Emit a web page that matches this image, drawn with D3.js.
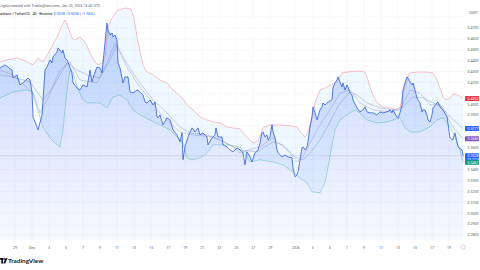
<!DOCTYPE html>
<html>
<head>
<meta charset="utf-8">
<script src="https://cdn.jsdelivr.net/npm/d3@7"></script>
<style>
  html, body { margin: 0; padding: 0; background: #fff; }
  svg { display: block; font-family: Roboto, "Open Sans", sans-serif; }
</style>
</head>
<body>
<svg id="chart" width="480" height="270"></svg>
<script>
// all series: [days since 2025-12-01 00:00 UTC, price in USDT]
const priceLine = [
  [-3.76,0.4333],[-3.17,0.4361],[-2.35,0.4315],[-2.23,0.4241],[-1.76,0.4269],[-1.41,0.4177],[-1.06,0.4196],
  [-0.47,0.4241],[-0.24,0.4223],[0,0.4113],[0.12,0.3884],[0.59,0.3792],[0.71,0.3765],[1.18,0.3902],
  [1.53,0.4315],[1.76,0.4342],[2.12,0.4407],[2.35,0.4379],[2.47,0.4434],[2.94,0.448],[3.06,0.4517],
  [3.53,0.4471],[3.64,0.4498],[3.88,0.4425],[4.11,0.4407],[4.23,0.4388],[4.70,0.4287],[4.82,0.4196],
  [5.29,0.415],[5.64,0.4131],[5.99,0.4177],[6.46,0.4159],[6.58,0.4205],[6.82,0.4315],[7.05,0.4205],
  [7.40,0.4296],[7.64,0.4342],[7.99,0.4333],[8.23,0.4287],[8.34,0.4379],[8.81,0.4746],[8.93,0.4682],
  [9.17,0.4636],[9.40,0.4654],[9.52,0.4617],[9.75,0.4636],[9.99,0.459],[10.11,0.4379],[10.34,0.4333],
  [10.69,0.4196],[10.93,0.4251],[11.28,0.4251],[11.52,0.4113],[11.87,0.4104],[12.34,0.4131],[12.69,0.4113],
  [13.04,0.4086],[13.28,0.4021],[13.51,0.4012],[13.87,0.404],[14.22,0.3994],[14.45,0.4021],[14.69,0.3884],
  [14.81,0.3875],[15.04,0.3902],[15.39,0.3811],[15.86,0.3875],[16.22,0.3856],[16.57,0.3765],[17.04,0.3719],
  [17.39,0.3655],[17.63,0.3737],[17.74,0.349],[17.98,0.3609],[18.33,0.37],[18.80,0.3783],[19.15,0.3746],
  [19.51,0.3783],[19.74,0.3719],[20.09,0.3737],[20.56,0.37],[20.68,0.3627],[21.15,0.3691],[21.50,0.3719],
  [21.62,0.3783],[21.86,0.37],[22.33,0.37],[22.44,0.3627],[22.91,0.3609],[23.27,0.3581],[23.62,0.3563],
  [24.09,0.36],[24.44,0.3581],[24.79,0.3554],[25.03,0.3444],[25.26,0.3563],[25.62,0.3517],[25.85,0.3471],
  [26.20,0.3554],[26.56,0.3581],[26.79,0.3645],[27.03,0.3737],[27.14,0.3746],[27.38,0.37],[27.61,0.3719],
  [27.73,0.3673],[27.97,0.37],[28.20,0.3811],[28.32,0.3746],[28.55,0.3691],[28.79,0.3581],[28.91,0.3554],
  [29.38,0.3517],[29.73,0.3535],[30.08,0.3517],[30.55,0.3508],[30.67,0.3416],[30.90,0.3334],[31.14,0.3352],
  [31.26,0.338],[31.73,0.36],[31.84,0.3609],[32.08,0.3581],[32.31,0.3609],[32.43,0.3655],[32.67,0.3792],
  [32.90,0.3884],[33.02,0.3976],[33.25,0.3921],[33.49,0.3856],[33.84,0.3948],[34.08,0.3976],[34.19,0.4012],
  [34.43,0.3994],[34.66,0.4012],[35.25,0.404],[35.37,0.415],[35.60,0.4196],[35.84,0.4223],[35.96,0.4251],
  [36.19,0.4205],[36.43,0.4159],[36.54,0.4196],[36.78,0.4131],[37.01,0.4177],[37.13,0.4159],[37.37,0.4104],
  [37.60,0.4086],[37.72,0.404],[38.19,0.3966],[38.54,0.393],[38.89,0.3948],[39.13,0.3976],[39.36,0.393],
  [39.72,0.3921],[40.07,0.3921],[40.54,0.3902],[40.89,0.393],[41.24,0.3921],[41.71,0.393],[42.07,0.3948],
  [42.30,0.3921],[42.42,0.3948],[42.89,0.3884],[43.01,0.3875],[43.24,0.3921],[43.48,0.3994],[43.59,0.4131],
  [43.83,0.4196],[44.06,0.4251],[44.18,0.4241],[44.42,0.4205],[44.65,0.4177],[44.77,0.4196],[45.00,0.4131],
  [45.24,0.4058],[45.36,0.404],[45.59,0.4012],[45.83,0.393],[45.94,0.3948],[46.18,0.3948],[46.41,0.3902],
  [46.53,0.3856],[46.77,0.3838],[47.00,0.3902],[47.12,0.3966],[47.59,0.4012],[47.71,0.4021],[47.94,0.3976],
  [48.30,0.3948],[48.77,0.3884],[49.12,0.3691],[49.47,0.3673],[49.70,0.3737],[50.06,0.3609],[50.53,0.3581],
  [50.67,0.3528]
];
const upperBand = [
  [-3.76,0.4388],[-2.94,0.4407],[-1.76,0.4425],[-1.06,0.4407],[0.12,0.4361],[0.71,0.4425],[1.29,0.4388],
  [2.12,0.4498],[2.94,0.4617],[3.53,0.4728],[3.88,0.4773],[4.23,0.4709],[4.70,0.4608],[5.05,0.459],
  [5.64,0.4617],[6.23,0.4572],[6.82,0.4471],[7.40,0.4388],[7.76,0.4361],[8.23,0.4379],[8.58,0.4434],
  [8.93,0.4709],[9.40,0.4792],[10.11,0.4865],[10.93,0.4883],[11.63,0.4874],[11.99,0.4792],[12.34,0.4617],
  [13.04,0.4361],[13.51,0.4296],[14.22,0.4269],[15.04,0.4223],[15.86,0.4196],[16.57,0.4131],[17.63,0.4058],
  [18.21,0.3994],[18.92,0.3948],[19.74,0.3884],[20.56,0.3856],[21.27,0.3838],[22.09,0.3829],[22.91,0.3792],
  [23.62,0.3783],[24.44,0.3774],[25.26,0.37],[25.97,0.3645],[26.56,0.3664],[27.14,0.3783],[27.97,0.3811],
  [29.14,0.3811],[30.32,0.3802],[31.14,0.3792],[31.49,0.3746],[32.08,0.37],[32.43,0.3737],[32.90,0.3884],
  [33.25,0.4012],[33.84,0.4131],[34.66,0.4159],[35.84,0.4205],[36.43,0.4287],[37.01,0.4296],[38.54,0.4306],
  [39.13,0.4296],[39.48,0.4223],[39.95,0.4104],[40.54,0.4012],[41.24,0.3976],[42.07,0.3966],[42.89,0.3948],
  [43.24,0.3966],[43.59,0.4104],[44.06,0.4223],[44.42,0.4287],[45.24,0.4296],[46.41,0.4296],[47.12,0.4287],
  [47.59,0.4223],[48.30,0.4067],[48.77,0.404],[49.12,0.4058],[49.47,0.4095],[50.06,0.4086],[50.67,0.4052]
];
const lowerBand = [
  [-3.76,0.4058],[-2.94,0.4086],[-2.23,0.4113],[-0.59,0.4131],[0,0.4113],[0.59,0.3966],[1.29,0.3792],
  [2.12,0.3691],[2.70,0.3645],[3.29,0.3609],[3.64,0.3765],[4.11,0.4131],[4.47,0.4315],[4.82,0.4296],
  [5.29,0.4159],[5.88,0.4058],[6.46,0.4012],[7.99,0.4012],[8.81,0.3966],[9.52,0.4067],[10.34,0.4086],
  [11.16,0.404],[11.87,0.3948],[12.69,0.3902],[13.87,0.3856],[15.04,0.3811],[16.22,0.3765],[17.74,0.3645],
  [18.21,0.3508],[18.80,0.349],[19.74,0.3508],[20.56,0.3554],[21.27,0.3627],[22.91,0.3627],[24.44,0.3609],
  [25.62,0.3471],[26.79,0.349],[28.32,0.3471],[29.49,0.3444],[30.67,0.338],[31.26,0.3334],[32.31,0.3279],
  [32.90,0.3196],[33.84,0.3187],[34.43,0.3279],[35.02,0.3517],[35.60,0.3765],[36.19,0.3856],[37.37,0.3921],
  [37.95,0.3948],[38.54,0.3921],[39.36,0.3856],[40.54,0.3829],[41.71,0.3838],[43.24,0.3875],[43.83,0.3783],
  [44.42,0.3746],[45.59,0.3746],[46.77,0.3792],[47.59,0.3856],[48.30,0.3875],[49.12,0.3792],[49.70,0.37],
  [50.29,0.3581],[50.67,0.3467]
];
const basisLine = [
  [-3.76,0.4269],[-2.23,0.4251],[-0.24,0.4205],[1.29,0.404],[2.47,0.4159],[4.11,0.4379],[5.29,0.4315],
  [6.46,0.4269],[7.99,0.4241],[9.17,0.4407],[9.99,0.4544],[10.69,0.4434],[11.87,0.4287],[13.04,0.4159],
  [14.22,0.404],[15.86,0.3921],[17.39,0.3792],[18.57,0.3737],[20.56,0.3719],[22.09,0.3673],[24.44,0.3581],
  [26.44,0.3563],[28.32,0.3655],[29.49,0.3627],[30.90,0.3517],[31.84,0.349],[32.67,0.3554],[33.84,0.3673],
  [35.02,0.3838],[36.19,0.4012],[37.37,0.4113],[38.19,0.4086],[39.36,0.4012],[40.89,0.3966],[42.42,0.3948],
  [43.59,0.3976],[44.77,0.4067],[45.94,0.4058],[47.12,0.4012],[47.94,0.3994],[49.12,0.3884],[50.67,0.3777]
];
const fastLine = [
  [-3.76,0.4315],[-2.23,0.4269],[0.12,0.4104],[0.94,0.3921],[1.76,0.404],[3.29,0.4315],[4.47,0.4388],
  [5.64,0.4223],[7.64,0.4196],[8.81,0.4379],[9.75,0.4562],[11.16,0.4342],[12.34,0.4196],[13.87,0.404],
  [15.39,0.3884],[17.39,0.3746],[18.92,0.3719],[21.27,0.37],[23.62,0.3609],[24.44,0.3554],[26.79,0.3609],
  [28.32,0.3691],[29.96,0.3581],[31.14,0.3471],[31.84,0.3517],[32.67,0.3645],[33.84,0.3811],[35.02,0.3948],
  [36.19,0.4104],[37.37,0.4131],[38.54,0.4012],[40.07,0.3948],[42.07,0.393],[43.24,0.3948],[44.42,0.4131],
  [45.59,0.4104],[46.77,0.3994],[47.94,0.3994],[49.47,0.3792],[50.67,0.3683]
];
// x-axis ticks: [days since Dec 1, label]
const dateTicks = [
  [-4,"27"],[-2,"29"],[0,"Dec"],[2,"3"],[4,"5"],[6,"7"],[8,"9"],[10,"11"],[12,"13"],[14,"15"],[16,"17"],
  [18,"19"],[20,"21"],[22,"23"],[24,"25"],[26,"27"],[28,"29"],[31,"2026"],[33,"3"],[35,"5"],[37,"7"],
  [39,"9"],[41,"11"],[43,"13"],[45,"15"],[47,"17"],[49,"19"]
];
const priceTicks = [0.47,0.46,0.45,0.44,0.43,0.42,0.40,0.39,0.36,0.34,0.33,0.32,0.31,0.30,0.29,0.28];
const gridTicks = [0.48,0.47,0.46,0.45,0.44,0.43,0.42,0.41,0.40,0.39,0.38,0.37,0.36,0.35,0.34,0.33,0.32,0.31,0.30,0.29,0.28];
const lastLabels = [
  {value: 0.4052, color: "#f23645"},
  {value: 0.3777, color: "#2962ff"},
  {value: 0.3683, color: "#7e57c2"},
  {value: 0.3528, color: "#2962ff", sub: "03:17:36"},
  {value: 0.3467, color: "#089981"}
];
const lastPrice = 0.3528;

const W = 480, H = 270;
const paneRight = 464, paneBottom = 240;
const day0 = Date.UTC(2025, 11, 1);
const toDate = d => new Date(day0 + d * 864e5);

const svg = d3.select('#chart');

const x = d3.scaleUtc()
  .domain([toDate(0), toDate(49)])
  .range([32, 449]);
const y = d3.scaleLinear()
  .domain([0.28, 0.47])
  .range([235, 28]);

svg.append('rect').attr('width', W).attr('height', H).attr('fill', '#ffffff');

const defs = svg.append('defs');
defs.append('clipPath').attr('id', 'pane')
  .append('rect').attr('x', 0).attr('y', 0).attr('width', paneRight).attr('height', paneBottom);

const topY = y(d3.max(priceLine, d => d[1]));
const grad = defs.append('linearGradient').attr('id', 'areaGrad')
  .attr('gradientUnits', 'userSpaceOnUse')
  .attr('x1', 0).attr('x2', 0).attr('y1', topY).attr('y2', paneBottom);
grad.append('stop').attr('offset', 0).attr('stop-color', '#2962ff').attr('stop-opacity', 0.26);
grad.append('stop').attr('offset', 1).attr('stop-color', '#2962ff').attr('stop-opacity', 0.04);

// grid
const grid = svg.append('g').attr('clip-path', 'url(#pane)');
grid.selectAll('line.h')
  .data(gridTicks)
  .enter()
  .append('line')
  .attr('x1', 0).attr('x2', paneRight)
  .attr('y1', d => y(d)).attr('y2', d => y(d))
  .attr('stroke', '#f2f3f7').attr('stroke-width', 0.5);
grid.selectAll('line.v')
  .data(dateTicks)
  .enter()
  .append('line')
  .attr('x1', d => x(toDate(d[0]))).attr('x2', d => x(toDate(d[0])))
  .attr('y1', 0).attr('y2', paneBottom)
  .attr('stroke', '#f2f3f7').attr('stroke-width', 0.5);

const plot = svg.append('g').attr('clip-path', 'url(#pane)');

const line = d3.line()
  .x(d => x(toDate(d[0])))
  .y(d => y(d[1]));

// band background
const bandShape = upperBand.concat(lowerBand.slice().reverse());
plot.append('path')
  .attr('d', line(bandShape) + 'Z')
  .attr('fill', 'rgba(33,150,243,0.07)');

// area under price
const area = d3.area()
  .x(d => x(toDate(d[0])))
  .y0(paneBottom)
  .y1(d => y(d[1]));
plot.append('path')
  .attr('d', area(priceLine))
  .attr('fill', 'url(#areaGrad)');

// last price line
plot.append('line')
  .attr('x1', 0).attr('x2', paneRight)
  .attr('y1', y(lastPrice)).attr('y2', y(lastPrice))
  .attr('stroke', '#b8bfd6').attr('stroke-width', 0.5);

plot.append('path').attr('d', line(upperBand))
  .attr('fill', 'none').attr('stroke', '#f23645').attr('stroke-opacity', 0.6).attr('stroke-width', 0.5);
plot.append('path').attr('d', line(lowerBand))
  .attr('fill', 'none').attr('stroke', '#089981').attr('stroke-opacity', 0.6).attr('stroke-width', 0.5);
plot.append('path').attr('d', line(basisLine))
  .attr('fill', 'none').attr('stroke', '#6b7bb5').attr('stroke-opacity', 0.7).attr('stroke-width', 0.5);
plot.append('path').attr('d', line(fastLine))
  .attr('fill', 'none').attr('stroke', '#8a78b5').attr('stroke-opacity', 0.7).attr('stroke-width', 0.5);

plot.append('path').attr('d', line(priceLine))
  .attr('fill', 'none').attr('stroke', '#2f5bd6').attr('stroke-width', 0.8)
  .attr('stroke-linejoin', 'round');

// right price scale
const axisG = svg.append('g').attr('font-size', 3.6).attr('fill', '#5d606b');
axisG.append('text').attr('x', 469).attr('y', 14.3).text('USDT');
axisG.selectAll('text.tick')
  .data(priceTicks)
  .enter()
  .append('text')
  .attr('x', 467.5)
  .attr('y', d => y(d) + 1.3)
  .text(d => d.toFixed(4));

const boxes = svg.append('g');
lastLabels.forEach(l => {
  const cy = y(l.value);
  const h = l.sub ? 9 : 5;
  boxes.append('rect')
    .attr('x', 465).attr('y', cy - 2.5)
    .attr('width', 14).attr('height', h)
    .attr('rx', 0.6)
    .attr('fill', l.color);
  boxes.append('text')
    .attr('x', 467.5).attr('y', cy + 1.3)
    .attr('font-size', 3.6).attr('fill', '#fff')
    .text(l.value.toFixed(4));
  if (l.sub) {
    boxes.append('text')
      .attr('x', 467.5).attr('y', cy + 5.3)
      .attr('font-size', 3.3).attr('fill', '#fff')
      .text(l.sub);
  }
});

// time scale
svg.append('g').attr('font-size', 3.6).attr('fill', '#5d606b')
  .selectAll('text')
  .data(dateTicks)
  .enter()
  .append('text')
  .attr('x', d => x(toDate(d[0])))
  .attr('y', 248.5)
  .attr('text-anchor', 'middle')
  .text(d => d[1]);

// header
const header = svg.append('g').attr('font-size', 3.7).attr('fill', '#5d606b');
header.append('text').attr('x', -8.5).attr('y', 6.5)
  .text('BeInCrypto created with TradingView.com, Jan 20, 2026 16:42 UTC');
const t2 = header.append('text').attr('x', -2.5).attr('y', 14.5);
t2.append('tspan').attr('fill', '#131722').text('Cardano / TetherUS · 4h · Binance  ');
t2.append('tspan').attr('fill', '#2962ff').text('0.3528  ');
t2.append('tspan').attr('fill', '#2962ff').text('−0.0056 (−1.56%)');

// auto-scale icon
svg.append('circle').attr('cx', 463).attr('cy', 247).attr('r', 2.2)
  .attr('fill', 'none').attr('stroke', '#9598a1').attr('stroke-width', 0.4);

// TradingView logo
const logo = svg.append('g').attr('fill', '#131722');
logo.append('path').attr('d', 'M-1 258 h4 v5.5 h-1.8 v-3.7 h-2.2 z');
logo.append('circle').attr('cx', 4).attr('cy', 259).attr('r', 0.9);
logo.append('path').attr('d', 'M5.6 258 h2 l-2.4 5.5 h-2 z');
logo.append('text').attr('x', 8).attr('y', 263)
  .attr('font-size', 6.4).attr('font-weight', 700)
  .attr('font-family', 'Lato, Roboto, sans-serif')
  .text('TradingView');
</script>
</body>
</html>
